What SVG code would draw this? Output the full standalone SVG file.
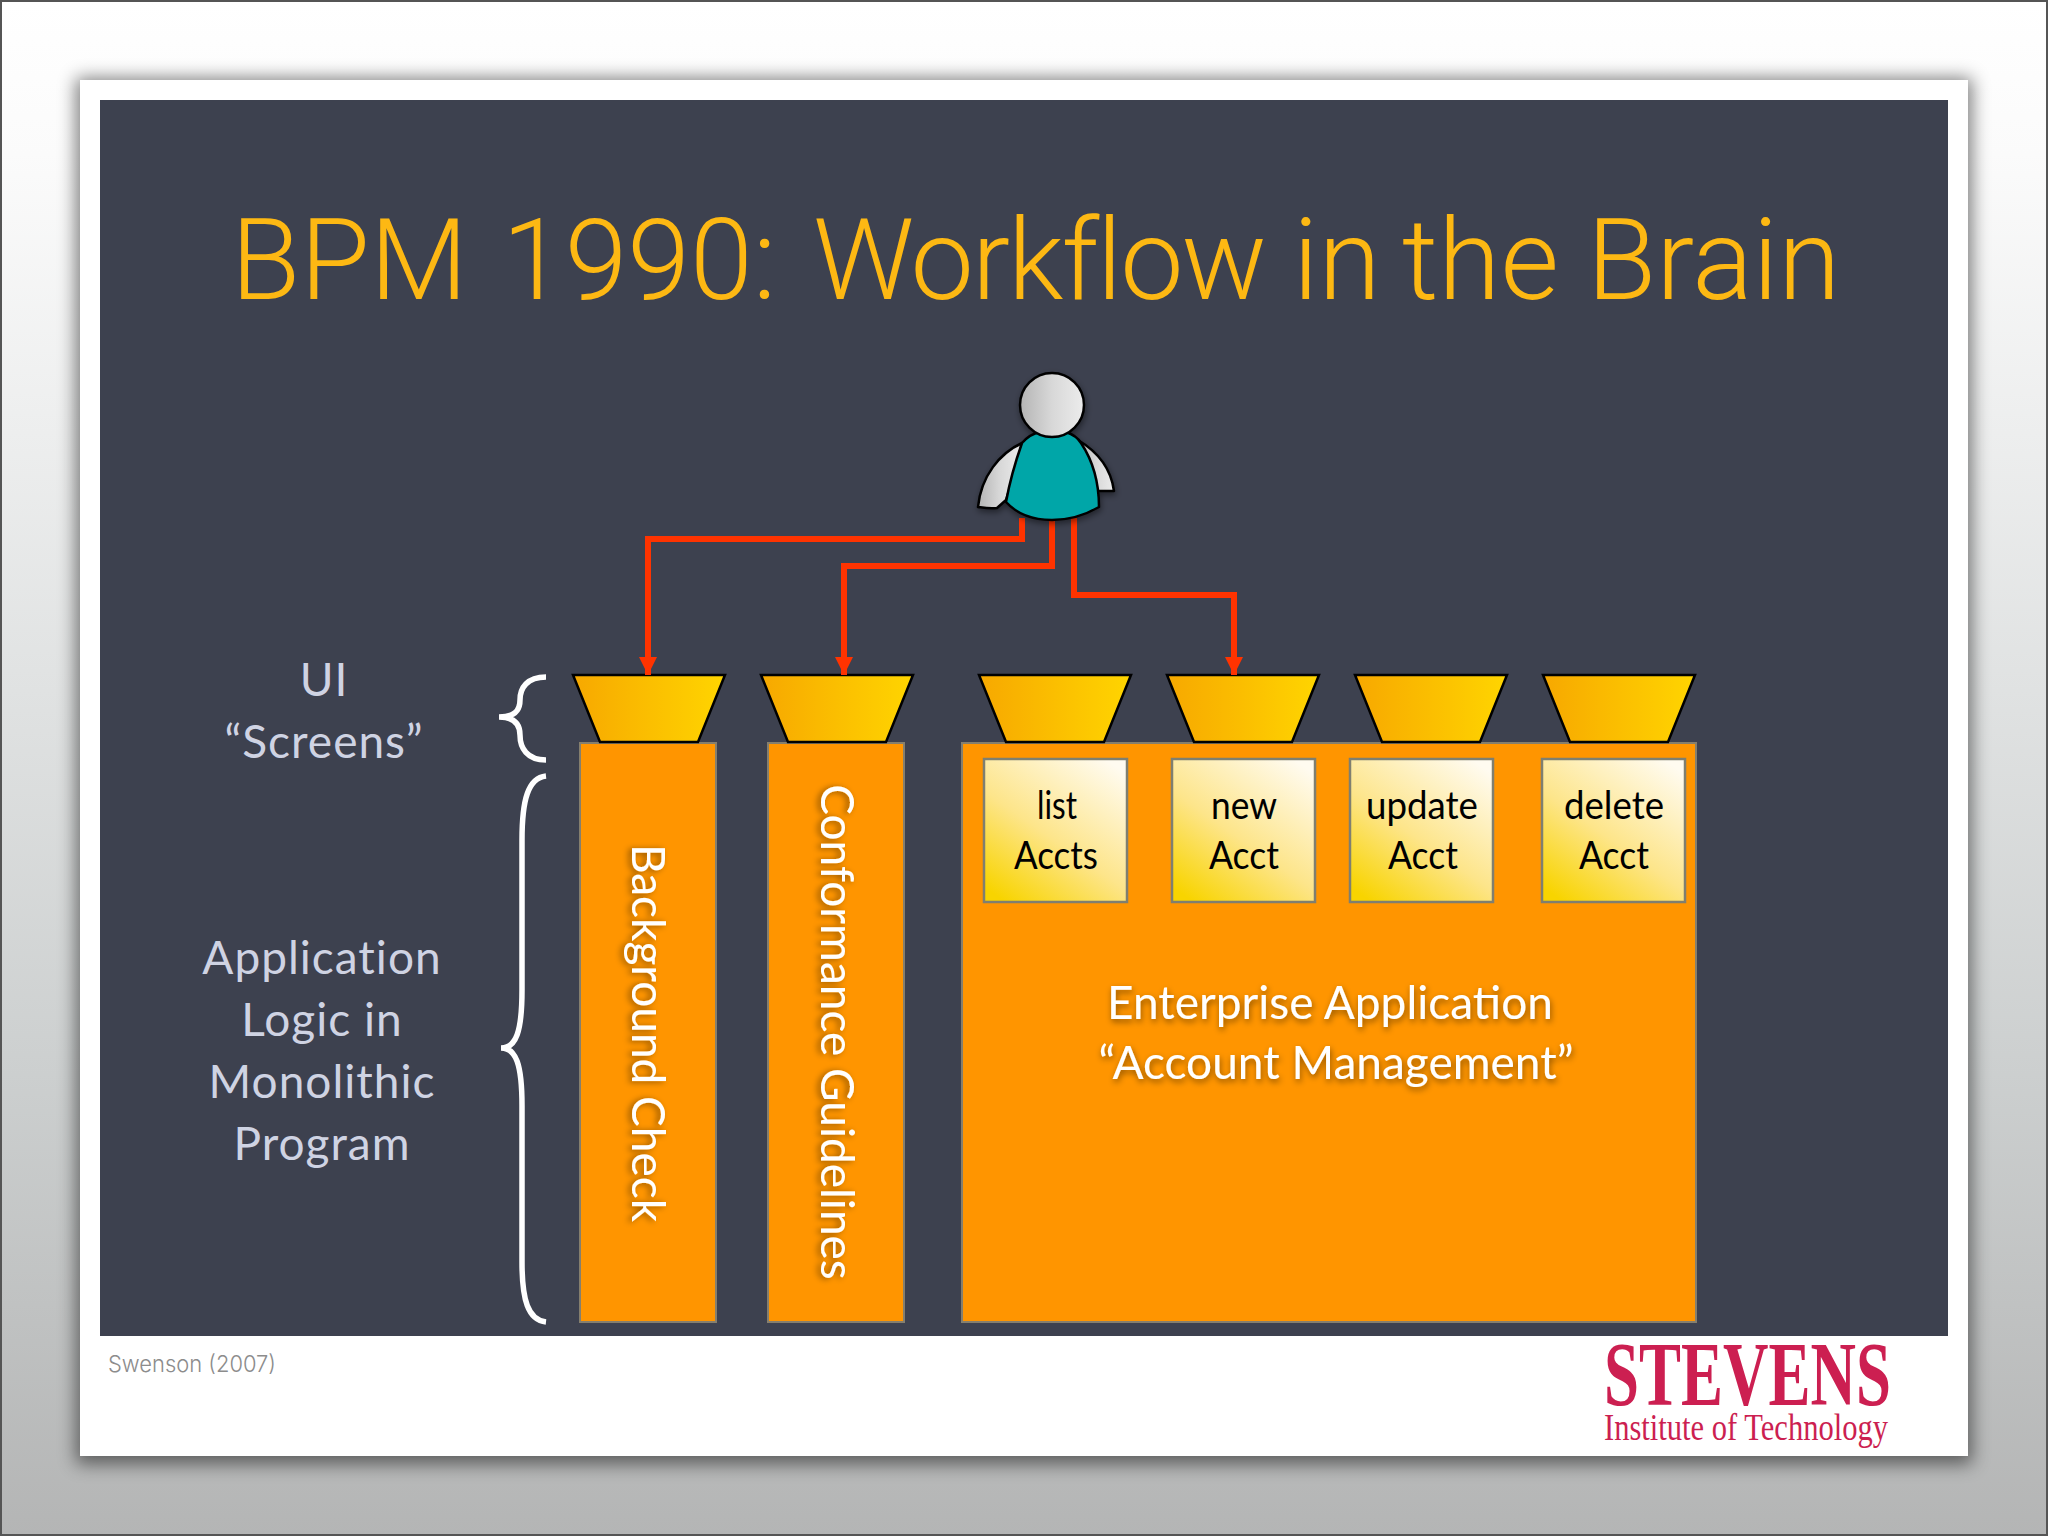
<svg xmlns="http://www.w3.org/2000/svg" width="2048" height="1536" viewBox="0 0 2048 1536">
<defs>
<linearGradient id="bg" x1="0" y1="0" x2="0" y2="1"><stop offset="0" stop-color="#ffffff"/><stop offset="0.1" stop-color="#fbfbfb"/><stop offset="0.45" stop-color="#e0e2e2"/><stop offset="0.7" stop-color="#cccfcf"/><stop offset="1" stop-color="#b4b5b5"/></linearGradient>
<linearGradient id="trap" x1="0" y1="0" x2="1" y2="0"><stop offset="0" stop-color="#f7a800"/><stop offset="1" stop-color="#ffd500"/></linearGradient>
<linearGradient id="box" x1="0.15" y1="1" x2="0.85" y2="0"><stop offset="0" stop-color="#f8d400"/><stop offset="0.45" stop-color="#fde58a"/><stop offset="1" stop-color="#fffbf0"/></linearGradient>
<linearGradient id="gray" x1="0" y1="0" x2="1" y2="0"><stop offset="0" stop-color="#b4b4b4"/><stop offset="0.5" stop-color="#d8d8d8"/><stop offset="1" stop-color="#ececec"/></linearGradient>
<filter id="slideShadow" x="-10%" y="-10%" width="120%" height="120%"><feGaussianBlur stdDeviation="9"/></filter>
<filter id="ds" x="-20%" y="-20%" width="140%" height="140%"><feDropShadow dx="1" dy="3" stdDeviation="3" flood-color="#000" flood-opacity="0.45"/></filter>
<marker id="arr" markerUnits="userSpaceOnUse" markerWidth="20" markerHeight="18" refX="18" refY="9" orient="auto"><path d="M0 0L18 9L0 18Z" fill="#ff3300"/></marker>
<style>
.trap{fill:url(#trap);stroke:#000;stroke-width:2.5}
.col{fill:#ff9500;stroke:#857f6e;stroke-width:2}
.box{fill:url(#box);stroke:#7f7f70;stroke-width:2.5}
.lbl{font-family:"Lato","Open Sans",sans-serif;font-size:46px;fill:#cfd3e3;text-anchor:middle;letter-spacing:1px}
.w{font-family:"Lato","Open Sans",sans-serif;font-size:46px;fill:#fff;text-anchor:middle;filter:url(#ds)}
.b{font-family:"Lato","Open Sans",sans-serif;font-size:39px;fill:#000;text-anchor:middle}
.conn{fill:none;stroke:#ff3300;stroke-width:6}
.brace{fill:none;stroke:#fff;stroke-width:5.5}
.logo{font-family:"Liberation Serif",serif;fill:#cc1f51}
</style>
</defs>
<rect id="page" x="1" y="1" width="2046" height="1534" fill="url(#bg)" stroke="#555" stroke-width="2"/>
<rect x="76" y="78" width="1896" height="1386" fill="#000" opacity="0.5" filter="url(#slideShadow)"/>
<rect id="slide" x="80" y="80" width="1888" height="1376" fill="#fff"/>
<rect id="panel" x="100" y="100" width="1848" height="1236" fill="#3d414f"/>
<text id="title" y="299" font-family="Roboto,sans-serif" font-weight="300" font-size="113" fill="#fdb813" style="font-variant-ligatures:none"><tspan x="231">BPM</tspan> <tspan x="502">1990:</tspan> <tspan x="813" letter-spacing="-2">Workflow</tspan> <tspan x="1293">in</tspan> <tspan x="1402">the</tspan> <tspan x="1587">Brain</tspan></text>

<g id="brace-ui"><path class="brace" d="M546 677C527 677 520 688 520 700C520 711 514 717 499 717C514 717 520 724 520 735C520 748 527 760 546 760"/></g>
<g id="brace-app"><path class="brace" d="M546 776C528 778 522 800 522 840L522 990C522 1032 516 1048 501 1048C516 1048 522 1064 522 1106L522 1262C522 1300 528 1320 546 1322"/></g>

<g id="label-ui"><text class="lbl" x="324" y="696">UI</text><text class="lbl" x="324" y="758">“Screens”</text></g>
<g id="label-app"><text class="lbl" x="322" y="974">Application</text><text class="lbl" x="322" y="1036">Logic in</text><text class="lbl" x="322" y="1098">Monolithic</text><text class="lbl" x="322" y="1160">Program</text></g>

<g id="col-background"><rect class="col" x="580" y="743" width="136" height="579"/><text class="w" transform="translate(632 1033) rotate(90)">Background Check</text></g>
<g id="col-conformance"><rect class="col" x="768" y="743" width="136" height="579"/><text class="w" transform="translate(821 1032) rotate(90)">Conformance Guidelines</text></g>
<g id="col-enterprise"><rect class="col" x="962" y="743" width="734" height="579"/>
<text class="w" x="1330" y="1019">Enterprise Application</text><text class="w" x="1336" y="1079">“Account Management”</text></g>

<g id="screen-1"><path class="trap" d="M573 675H725L698 742H600Z"/></g>
<g id="screen-2"><path class="trap" d="M761 675H913L886 742H788Z"/></g>
<g id="screen-3"><path class="trap" d="M979 675H1131L1104 742H1006Z"/></g>
<g id="screen-4"><path class="trap" d="M1167 675H1319L1292 742H1194Z"/></g>
<g id="screen-5"><path class="trap" d="M1355 675H1507L1480 742H1382Z"/></g>
<g id="screen-6"><path class="trap" d="M1543 675H1695L1668 742H1570Z"/></g>

<g id="box-list"><rect class="box" x="984" y="759" width="143" height="143"/><text class="b" x="1057" y="819" textLength="40" lengthAdjust="spacingAndGlyphs">list</text><text class="b" x="1056" y="869" textLength="84" lengthAdjust="spacingAndGlyphs">Accts</text></g>
<g id="box-new"><rect class="box" x="1172" y="759" width="143" height="143"/><text class="b" x="1244" y="819" textLength="66" lengthAdjust="spacingAndGlyphs">new</text><text class="b" x="1244" y="869" textLength="70" lengthAdjust="spacingAndGlyphs">Acct</text></g>
<g id="box-update"><rect class="box" x="1350" y="759" width="143" height="143"/><text class="b" x="1422" y="819" textLength="112" lengthAdjust="spacingAndGlyphs">update</text><text class="b" x="1423" y="869" textLength="70" lengthAdjust="spacingAndGlyphs">Acct</text></g>
<g id="box-delete"><rect class="box" x="1542" y="759" width="143" height="143"/><text class="b" x="1614" y="819" textLength="100" lengthAdjust="spacingAndGlyphs">delete</text><text class="b" x="1614" y="869" textLength="70" lengthAdjust="spacingAndGlyphs">Acct</text></g>

<g id="connectors">
<path class="conn" marker-end="url(#arr)" d="M1022 518V539H648V675"/>
<path class="conn" marker-end="url(#arr)" d="M1052 520V566H844V675"/>
<path class="conn" marker-end="url(#arr)" d="M1074 518V595H1234V675"/>
</g>

<g id="person" stroke="#000" stroke-width="2.5" stroke-linejoin="round" filter="url(#ds)">
<path fill="url(#gray)" d="M1078 440C1098 452 1111 468 1114 491H1095L1080 470Z"/>
<path fill="url(#gray)" d="M1022 443C1000 453 981 476 978 507C985 508 990 509 997 508L1006 500L1015 470Z"/>
<path fill="#00a6a8" d="M1022 443C1028 436 1035 433 1040 432H1066C1072 434 1078 438 1081 443C1093 461 1099 482 1099 507C1085 515 1070 520 1052 520C1033 520 1017 514 1006 502C1010 480 1016 460 1022 443Z"/>
<circle fill="url(#gray)" cx="1052" cy="405" r="32"/>
</g>

<text id="credit" x="108" y="1372" font-family="Inter,'Liberation Sans',sans-serif" font-weight="300" font-size="23" fill="#8c8c8c" textLength="168" lengthAdjust="spacingAndGlyphs">Swenson (2007)</text>
<g id="logo"><text class="logo" x="1604" y="1405" font-size="90" font-weight="700" textLength="287" lengthAdjust="spacingAndGlyphs">STEVENS</text>
<text class="logo" x="1604" y="1440" font-size="37" textLength="284" lengthAdjust="spacingAndGlyphs">Institute of Technology</text></g>
</svg>
